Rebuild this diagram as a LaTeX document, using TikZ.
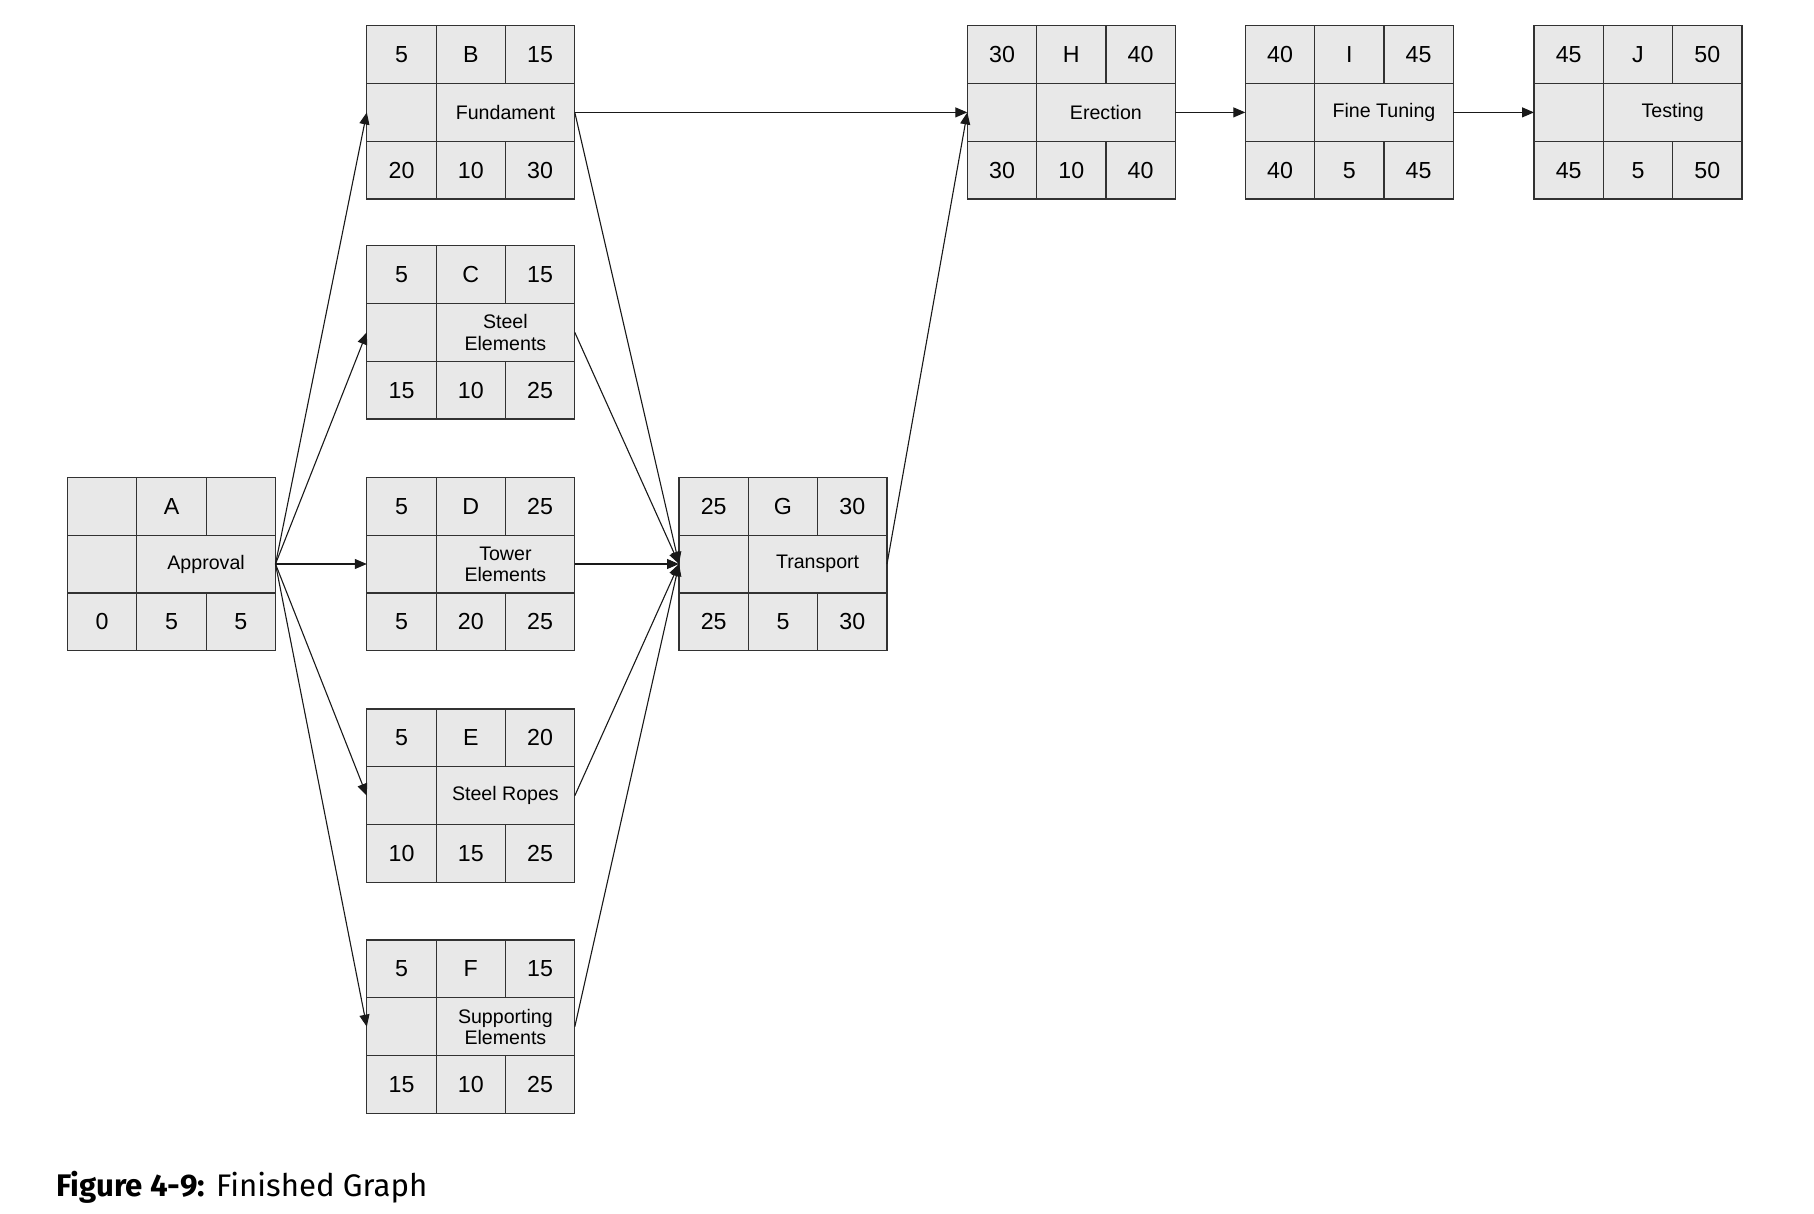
\documentclass[tikz,border=0pt]{standalone}
\usepackage{fontspec}
\setmainfont{Liberation Sans}
\newfontfamily\capfont{Fira Sans}
\usetikzlibrary{calc,arrows.meta}

\definecolor{cellfill}{RGB}{232,232,232}
\definecolor{cellrule}{RGB}{50,50,50}

\tikzset{
  actbox/.style={draw=cellrule, line width=0.65pt, fill=cellfill, minimum width=104pt, minimum height=86.7pt, inner sep=0pt, outer sep=0pt},
  cellline/.style={draw=cellrule, line width=0.6pt},
  numtext/.style={inner sep=0pt, font=\fontsize{11.6pt}{13pt}\selectfont},
  labtext/.style={inner sep=0pt, align=center, font=\fontsize{9.8pt}{10.6pt}\selectfont},
  link/.style={->, line width=0.55pt, draw=black!90},
}

% name, position, early start, letter, early finish, label, late start, duration, late finish
\newcommand{\activity}[9]{%
  \node[actbox] (#1) at #2 {};
  \draw[cellline] (#1.north west) ++(0,57.8) -- ++(208,0);
  \draw[cellline] (#1.south west) ++(0,-57.8) -- ++(208,0);
  \draw[cellline] (#1.north west) ++(69.3,0) -- ++(0,173.4);
  \draw[cellline] (#1.north west) ++(138.6,0) -- ++(0,57.8);
  \draw[cellline] (#1.south west) ++(138.6,0) -- ++(0,-57.8);
  \node[numtext] (#1-es) at ($(#1.north west)+(34.7,28.9)$) {#3};
  \node[numtext] (#1-id) at ($(#1.north west)+(104,28.9)$) {#4};
  \node[numtext] (#1-ef) at ($(#1.north west)+(173.3,28.9)$) {#5};
  \node[labtext] (#1-lab) at ($(#1.west)+(138.6,0)$) {#6};
  \node[numtext] (#1-ls) at ($(#1.south west)+(34.7,-28.9)$) {#7};
  \node[numtext] (#1-du) at ($(#1.south west)+(104,-28.9)$) {#8};
  \node[numtext] (#1-lf) at ($(#1.south west)+(173.3,-28.9)$) {#9};
}

\begin{document}
\begin{tikzpicture}[x=0.5pt, y=-0.5pt, >={Triangle[length=6pt,width=5pt]}]
\useasboundingbox (0,0) rectangle (1814,1214);

\activity{a}{(171.5,564)}{}{A}{}{Approval}{0}{5}{5}
\activity{b}{(470.8,112.4)}{5}{B}{15}{Fundament}{20}{10}{30}
\activity{c}{(470.8,332.4)}{5}{C}{15}{Steel\\Elements}{15}{10}{25}
\activity{d}{(470.8,564)}{5}{D}{25}{Tower\\Elements}{5}{20}{25}
\activity{e}{(470.8,795.7)}{5}{E}{20}{Steel Ropes}{10}{15}{25}
\activity{f}{(470.8,1026.7)}{5}{F}{15}{Supporting\\Elements}{15}{10}{25}
\activity{g}{(783,564)}{25}{G}{30}{Transport}{25}{5}{30}
\activity{h}{(1071.3,112.4)}{30}{H}{40}{Erection}{30}{10}{40}
\activity{i}{(1349.3,112.4)}{40}{I}{45}{Fine Tuning}{40}{5}{45}
\activity{j}{(1638,112.4)}{45}{J}{50}{Testing}{45}{5}{50}

\foreach \n in {b,c,d,e,f}{
  \draw[link] (a.east) -- (\n.west);
  \draw[link] (\n.east) -- (g.west);
}
\draw[link] (b.east) -- (h.west);
\draw[link] (g.east) -- (h.west);
\draw[link] (h.east) -- (i.west);
\draw[link] (i.east) -- (j.west);

\node[anchor=base west, inner sep=0pt, font=\capfont\fontsize{15.6pt}{17pt}\selectfont] (caption) at (56,1196.7) {\textbf{Figure 4-9:} Finished Graph};

\end{tikzpicture}
\end{document}
